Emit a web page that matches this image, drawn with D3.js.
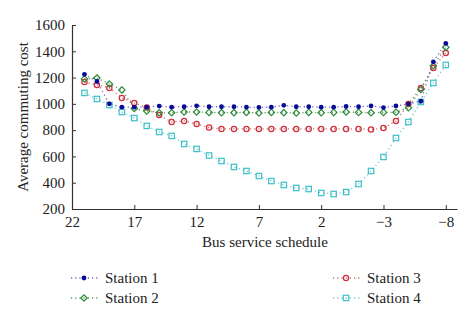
<!DOCTYPE html>
<html><head><meta charset="utf-8">
<script src="https://cdn.jsdelivr.net/npm/d3@7"></script>
<style>body{margin:0;background:#fff}svg{display:block}text{font-family:"Liberation Serif","Times New Roman",serif;fill:#222}</style>
</head><body><svg id="c" width="474" height="324"></svg>
<script>
const schedule = [21,20,19,18,17,16,15,14,13,12,11,10,9,8,7,6,5,4,3,2,1,0,-1,-2,-3,-4,-5,-6,-7,-8];
const station1 = [1225,1170,1000,975,975,975,983,975,978,985,978,978,978,975,973,975,989,978,978,975,975,980,978,984,972,984,1000,1020,1320,1460];
const station2 = [1190,1197,1151,1106,965,946,932,932,938,938,935,933,933,935,930,935,933,930,935,933,935,938,935,933,935,936,970,1110,1290,1430];
const station3 = [1166,1144,1121,1045,1007,972,915,862,870,847,820,809,809,809,809,809,809,809,809,809,809,809,809,805,816,870,999,1121,1273,1387];
const station4 = [1083,1037,991,938,892,832,786,756,695,657,607,565,520,489,451,413,383,360,352,322,314,329,390,489,596,740,862,1014,1159,1296];
const xTicks = [22,17,12,7,2,-3,-8];
const yTicks = [200,400,600,800,1000,1200,1400,1600];
const seriesNames = ["Station 1","Station 2","Station 3","Station 4"];
const seriesColors = ["#0a0a9a","#2a8a3a","#d0303c","#3cc0c8"];
const lineColors = ["#6a6ac0","#5a9a5a","#c87070","#70c8d0"];
const seriesSymbols = ["dot","diamond","circle","square"];
const allSeries = [station1,station2,station3,station4];

const svg = d3.select("#c");
const x = d3.scaleLinear().domain([22,-8.9]).range([72,457]);
const y = d3.scaleLinear().domain([200,1600]).range([209,25]);

const xa = svg.append("g").attr("transform","translate(0,209)")
  .call(d3.axisBottom(x).tickValues(xTicks).tickSizeInner(-4).tickSizeOuter(0).tickPadding(7)
    .tickFormat(d=>d<0?"\u2212"+Math.abs(d):String(d)));
const ya = svg.append("g").attr("transform","translate(72,0)")
  .call(d3.axisLeft(y).tickValues(yTicks).tickSizeInner(-4).tickSizeOuter(0).tickPadding(7)
    .tickFormat(d3.format("d")));
[xa,ya].forEach(a=>{a.attr("font-family",null).attr("font-size",null);
  a.select(".domain").attr("stroke","#333").attr("stroke-width",1.2);
  a.selectAll(".tick line").attr("stroke","#333");
  a.selectAll("text").style("font-size","15px").style("font-family","'Liberation Serif', serif").attr("fill","#222");});

svg.append("text").attr("x",265).attr("y",247).attr("text-anchor","middle").style("font-size","15px").text("Bus service schedule");
svg.append("text").attr("transform","translate(28,117) rotate(-90)").attr("text-anchor","middle").style("font-size","15px").text("Average commuting cost");

function drawMarker(g,type,cx,cy,color){
  if(type==="dot") g.append("circle").attr("cx",cx).attr("cy",cy).attr("r",2.4).attr("fill",color);
  else if(type==="circle") g.append("circle").attr("cx",cx).attr("cy",cy).attr("r",2.6).attr("fill","none").attr("stroke",color).attr("stroke-width",1.3);
  else if(type==="square") g.append("rect").attr("x",cx-2.7).attr("y",cy-2.7).attr("width",5.4).attr("height",5.4).attr("fill","none").attr("stroke",color).attr("stroke-width",1.2);
  else if(type==="diamond") g.append("path").attr("d",`M${cx},${cy-3.2}L${cx+3.2},${cy}L${cx},${cy+3.2}L${cx-3.2},${cy}Z`).attr("fill","none").attr("stroke",color).attr("stroke-width",1.2);
}

const line = d3.line().x((d,i)=>x(schedule[i])).y(d=>y(d));
const order = [3,2,1,0];
order.forEach(k=>{
  svg.append("path").datum(allSeries[k]).attr("d",line).attr("fill","none")
    .attr("stroke",lineColors[k]).attr("stroke-width",1.3).attr("stroke-dasharray","1.2,3");
});
order.forEach(k=>{
  const g = svg.append("g");
  allSeries[k].forEach((v,i)=>drawMarker(g,seriesSymbols[k],x(schedule[i]),y(v),seriesColors[k]));
});

const legPos = [[71,278],[71,298],[333,278],[333,298]];
seriesNames.forEach((n,k)=>{
  const [lx,ly] = legPos[k];
  const g = svg.append("g");
  g.append("line").attr("x1",lx).attr("x2",lx+27).attr("y1",ly).attr("y2",ly)
    .attr("stroke",lineColors[k]).attr("stroke-width",1.3).attr("stroke-dasharray","1.2,3");
  drawMarker(g,seriesSymbols[k],lx+13,ly,seriesColors[k]);
  g.append("text").attr("x",lx+34).attr("y",ly+5).style("font-size","15px").text(n);
});
</script></body></html>
